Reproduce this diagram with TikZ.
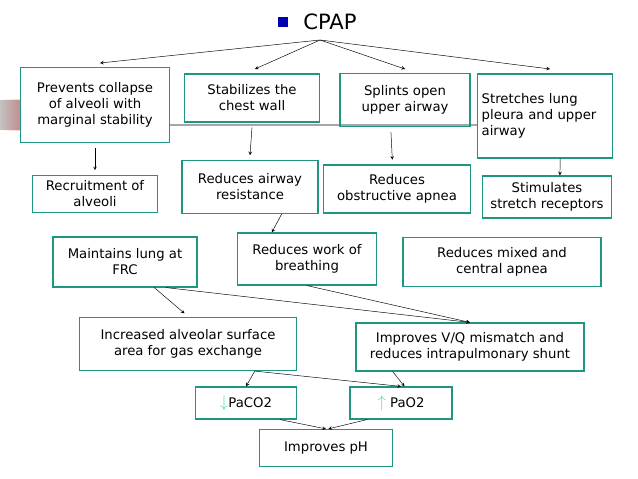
\documentclass[tikz,border=0pt]{standalone}
\usepackage{fontspec}
\setmainfont{DejaVu Sans}
\usetikzlibrary{positioning}
\definecolor{boxteal}{RGB}{30,150,130}
\definecolor{arrowgreen}{RGB}{80,220,180}
\tikzset{box/.style={draw=boxteal,line width=1pt,align=center,inner sep=2pt,font=\fontsize{11.3}{13.6}\selectfont},
  link/.style={->,>=stealth,thin}}
\begin{document}
\begin{tikzpicture}[x=0.03cm,y=-0.03cm]
    \useasboundingbox (0,0) rectangle (638,479);
    \fill[left color=white,right color=red!35,opacity=.6] (0,100) rectangle (21,130);
    \draw[gray!70,line width=2pt] (170,125) -- (478,125);
    \fill[blue!70!black] (278,17) rectangle (288,27);
    \node[font=\fontsize{18}{21}\selectfont] (cpap) at (330,22) {CPAP};
    \coordinate (src) at (320,40);

    \node[box,minimum width=4.47cm,minimum height=2.25cm] (b1) at (95,105) {Prevents collapse\\of alveoli with\\marginal stability};
    \node[box,minimum width=4.05cm,minimum height=1.44cm] (b2) at (252,98) {Stabilizes the\\chest wall};
    \node[box,minimum width=3.9cm,minimum height=1.59cm] (b3) at (405,100) {Splints open\\upper airway};
    \node[box,minimum width=4.05cm,minimum height=2.52cm,text width=3.8cm,align=left] (b4) at (545,116) {Stretches lung\\pleura and upper\\airway};

    \node[box,minimum width=3.75cm,minimum height=1.11cm] (r1) at (95,194) {Recruitment of\\alveoli};
    \node[box,minimum width=4.08cm,minimum height=1.59cm] (r2) at (250,187) {Reduces airway\\resistance};
    \node[box,minimum width=4.41cm,minimum height=1.44cm] (r3) at (397,189) {Reduces\\obstructive apnea};
    \node[box,minimum width=3.87cm,minimum height=1.26cm] (r4) at (547,197) {Stimulates\\stretch receptors};

    \node[box,minimum width=4.32cm,minimum height=1.5cm] (m1) at (125,262) {Maintains lung at\\FRC};
    \node[box,minimum width=4.17cm,minimum height=1.56cm] (m2) at (307,259) {Reduces work of\\breathing};
    \node[box,minimum width=5.94cm,minimum height=1.47cm] (m3) at (502,262) {Reduces mixed and\\central apnea};

    \node[box,minimum width=6.51cm,minimum height=1.59cm] (i1) at (188,344) {Increased alveolar surface\\area for gas exchange};
    \node[box,minimum width=6.84cm,minimum height=1.44cm] (i2) at (470,347) {Improves V/Q mismatch and\\reduces intrapulmonary shunt};

    \node[box,minimum width=3.03cm,minimum height=0.96cm] (p1) at (246,403) {\textcolor{arrowgreen}{\Large$\downarrow$}PaCO2};
    \node[box,minimum width=3.06cm,minimum height=0.96cm] (p2) at (401,403) {\textcolor{arrowgreen}{\Large$\uparrow$} PaO2};
    \node[box,minimum width=3.99cm,minimum height=1.11cm] (ph) at (326,448) {Improves pH};

    % from CPAP
    \draw[link] (src) -- (100,63);
    \draw[link] (src) -- (255,69);
    \draw[link] (src) -- (405,69);
    \draw[link] (src) -- (550,69);

    % downward links
    \draw[link] ([yshift=-4pt]b1.south) -- ([yshift=4pt]r1.north);
    \draw[link] ([yshift=-4pt]b2.south) -- ([yshift=4pt]r2.north);
    \draw[link] ([xshift=-12,yshift=-4pt]b3.south) -- ([xshift=-4,yshift=4pt]r3.north);
    \draw[link] ([xshift=13]b4.south) -- ([xshift=11]r4.north);
    \draw[link] ([xshift=27]r2.south) -- ([xshift=-30]m2.north);
    \draw[link] ([xshift=25]m1.south) -- ([xshift=-3,yshift=3pt]i1.north);
    \draw[link] ([xshift=35]m1.south) -- (i2.north);
    \draw[link] (m2.south) -- (i2.north);
    \draw[link] ([xshift=57]i1.south) -- (p1.north);
    \draw[link] ([xshift=57]i1.south) -- (p2.north);
    \draw[link] ([xshift=-66]i2.south) -- ([xshift=3]p2.north);
    \draw[link] ([xshift=29]p1.south) -- (ph.north);
    \draw[link] ([xshift=-29]p2.south) -- ([xshift=2]ph.north);
\end{tikzpicture}
\end{document}
